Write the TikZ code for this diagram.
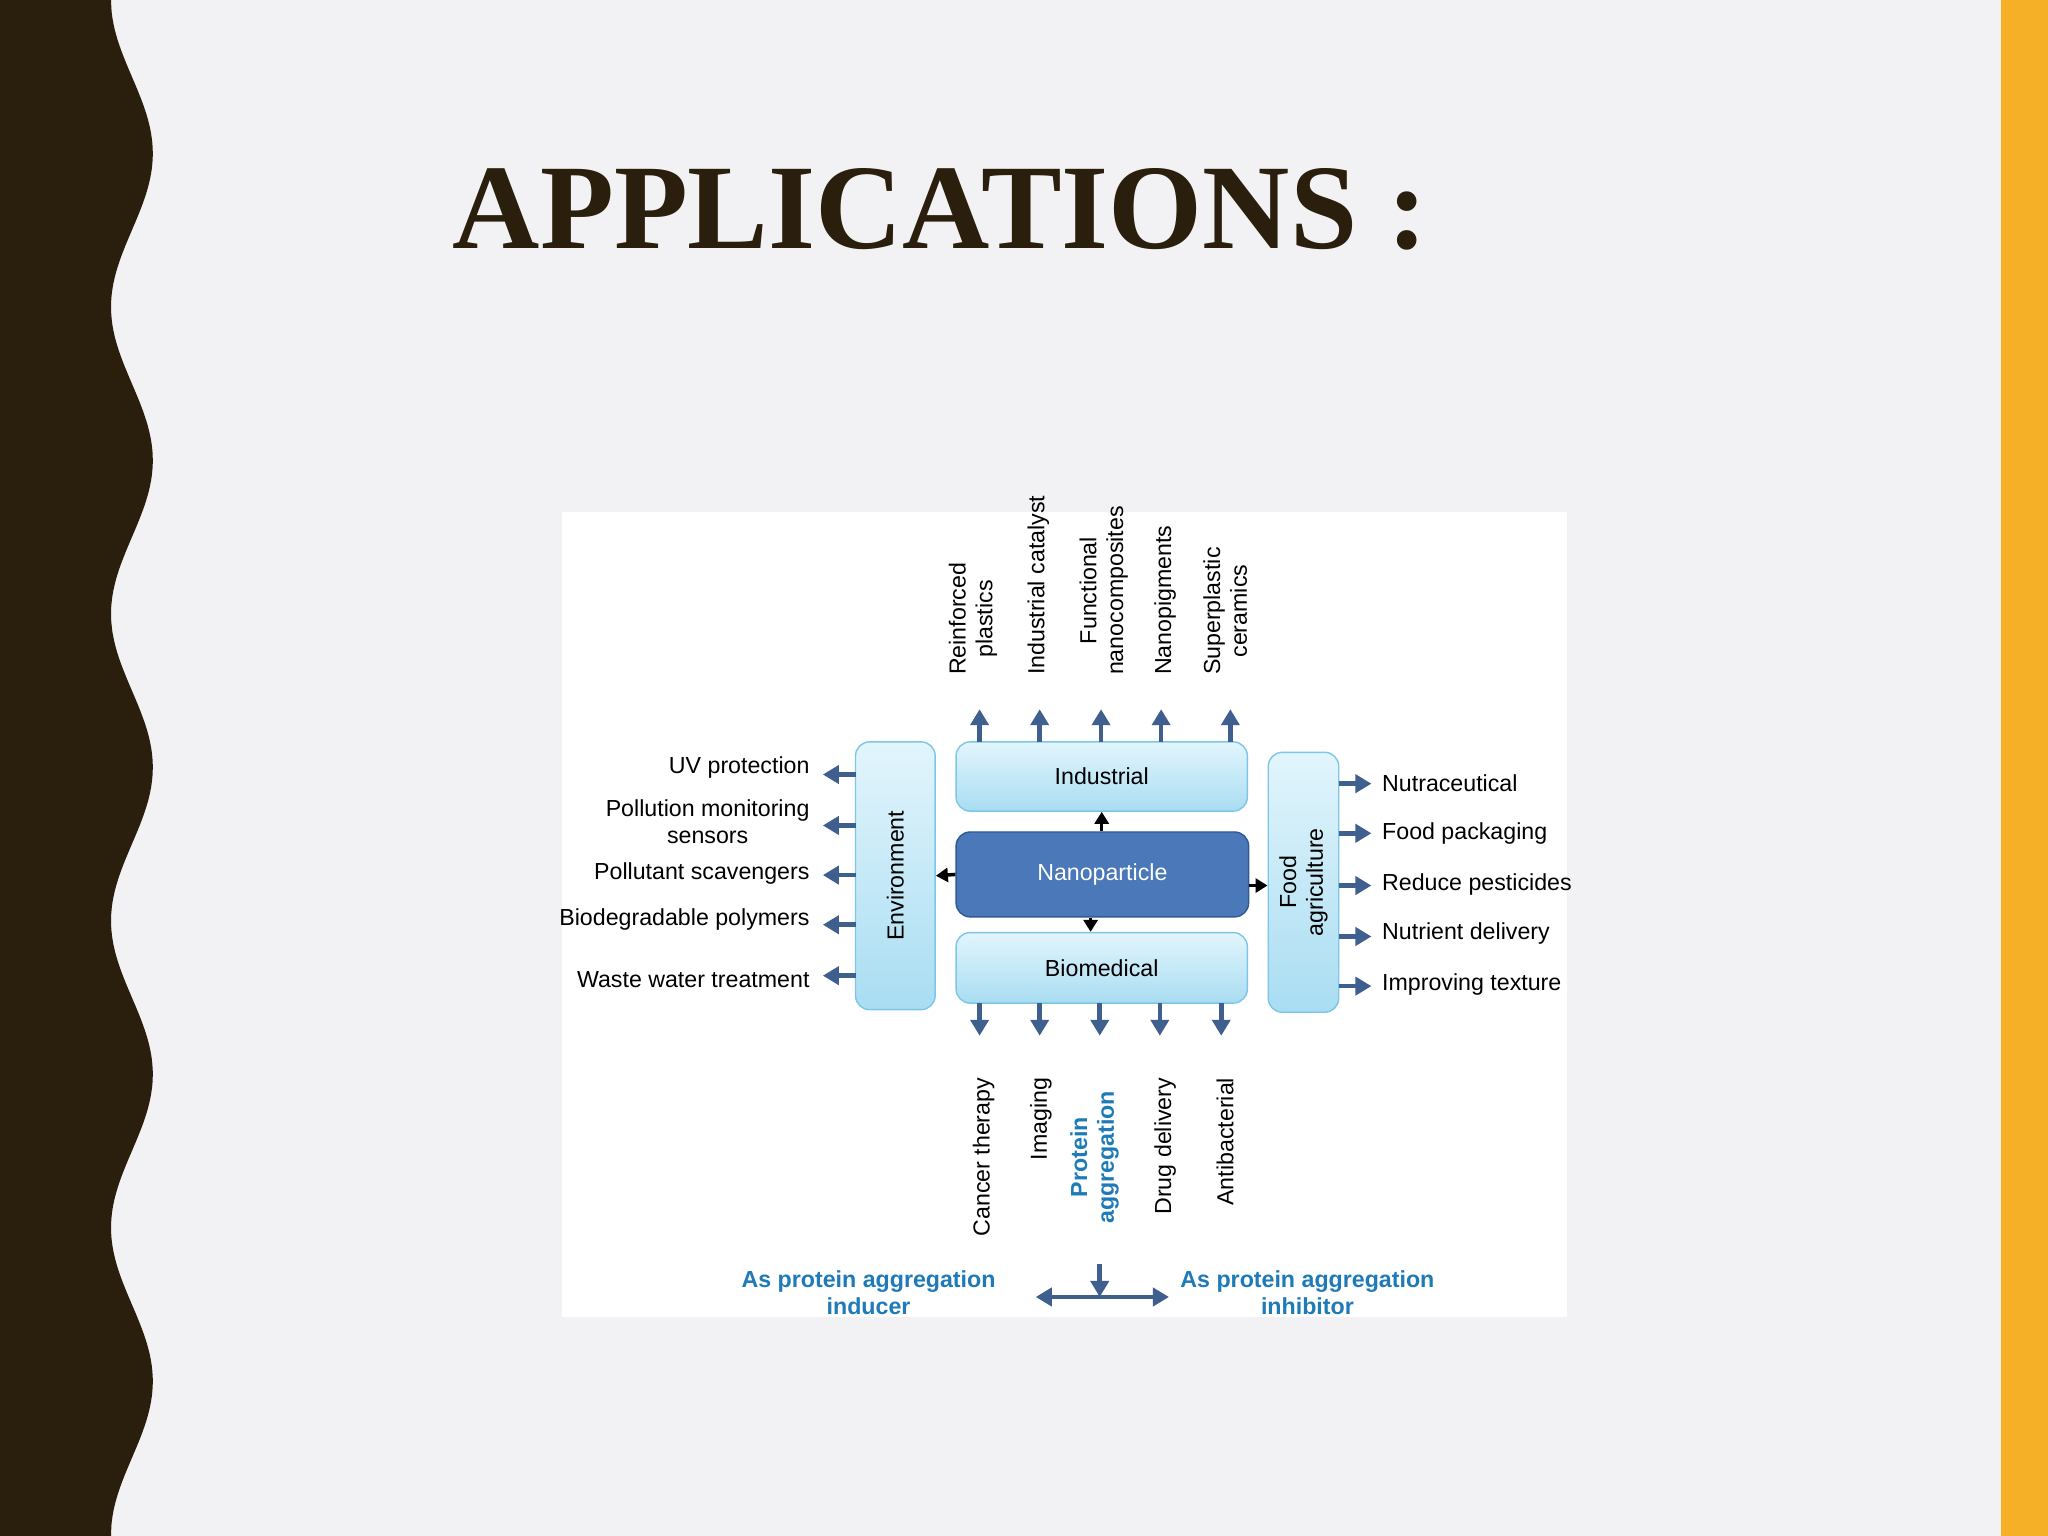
\documentclass[tikz,border=0pt]{standalone}
\usepackage{fontspec}
\setmainfont{Liberation Sans}
\newfontfamily\titlefont{Liberation Serif}
\usetikzlibrary{arrows.meta}
\definecolor{slide}{HTML}{F2F2F4}
\definecolor{wave}{HTML}{2A1E0C}
\definecolor{bar}{HTML}{F5B027}
\definecolor{boxtop}{HTML}{E2F5FC}
\definecolor{boxbot}{HTML}{A9DDF2}
\definecolor{boxline}{HTML}{7CC6E6}
\definecolor{core}{HTML}{4A78B8}
\definecolor{coreline}{HTML}{2F5A96}
\definecolor{link}{HTML}{3F5F8F}
\definecolor{bluetext}{HTML}{1F7AB8}
\newcommand\pxu{0.01306cm}
\tikzset{
  sector/.style={draw=boxline, rounded corners=4pt, top color=boxtop, bottom color=boxbot, font=\fontsize{6.6}{7.6}\selectfont, inner sep=0pt},
  item/.style={font=\fontsize{6.6}{7.6}\selectfont, align=center, inner sep=1pt},
  usearrow/.style={-{Triangle[length=1.6mm,width=1.8mm]}, line width=1.3pt, link},
  core arrow/.style={-{Triangle[length=1.2mm,width=1.4mm]}, line width=1pt, black}
}
\begin{document}
\begin{tikzpicture}[x=0.01306cm, y=-0.01306cm]
    % Slide background and side decorations
    \fill[slide] (0,0) rectangle (1568,1176);
    \fill[wave] (0,0) -- plot[domain=0:1176, samples=120, smooth] ({101-16*cos(\x/235*360)}, \x) -- (0,1176) -- cycle;
    \fill[bar] (1532,0) rectangle (1568,1176);
    \useasboundingbox (0,0) rectangle (1568,1176);

    % Title
    \node[wave, font=\titlefont\bfseries\fontsize{34.4}{38}\selectfont] (title) at (720,160) {APPLICATIONS :};

    % White panel of the figure
    \fill[white] (430,392) rectangle (1200,1008);

    % Sectors around the nanoparticle
    \node[sector, minimum width={223*\pxu}, minimum height={53*\pxu}] (ind) at (843.5,594.5) {Industrial};
    \node[draw=coreline, fill=core, rounded corners=4pt, text=white, minimum width={224*\pxu}, minimum height={65*\pxu}, font=\fontsize{6.6}{7.6}\selectfont] (nano) at (844,669.5) {Nanoparticle};
    \node[sector, minimum width={223*\pxu}, minimum height={54*\pxu}] (bio) at (843.5,741) {Biomedical};
    \node[sector, minimum width={61*\pxu}, minimum height={205*\pxu}] (env) at (685.5,670.5) {};
    \node[rotate=90, font=\fontsize{6.6}{7.6}\selectfont] at (env) {Environment};
    \node[sector, minimum width={54*\pxu}, minimum height={199*\pxu}] (food) at (998,675.5) {};
    \node[rotate=90, align=center, font=\fontsize{6.6}{7.6}\selectfont] at (food) {Food\\agriculture};

    % Links from the nanoparticle
    \draw[core arrow] (nano.north -| ind) -- (ind.south);
    \draw[core arrow] (nano.south -| 835,0) -- (bio.north -| 835,0);
    \draw[core arrow] (nano.west) -- (env.east);
    \draw[core arrow] (nano.east |- 0,678) -- (food.west |- 0,678);

    % Industrial uses
    \foreach \x/\txt in {745/{Reinforced\\plastics}, 795/{Industrial catalyst}, 845/{Functional\\nanocomposites}, 892/{Nanopigments}, 938/{Superplastic\\ceramics}} {
        \node[item, rotate=90, anchor=west] at (\x,520) {\txt};
    }
    \foreach \x in {750,796,843,889,942} {
        \draw[usearrow] (\x,568) -- (\x,543);
    }

    % Biomedical uses
    \foreach \x/\txt in {753/{Cancer therapy}, 797/{Imaging}, 892/{Drug delivery}, 938/{Antibacterial}} {
        \node[item, rotate=90, anchor=east] at (\x,822) {\txt};
    }
    \node[item, rotate=90, anchor=east, text=bluetext, font=\bfseries\fontsize{6.6}{7.6}\selectfont] (prot) at (838,832) {Protein\\aggregation};
    \foreach \x in {750,796,842,888,935} {
        \draw[usearrow] (\x,768) -- (\x,793);
    }

    % Environment uses
    \foreach \y/\txt in {588/{UV protection}, 629/{Pollution monitoring\\sensors}, 669/{Pollutant scavengers}, 704/{Biodegradable polymers}, 750/{Waste water treatment}} {
        \node[item, anchor=east] at (623,\y) {\txt};
    }
    \foreach \y in {593,632,670,708,747} {
        \draw[usearrow] (655,\y) -- (630,\y);
    }

    % Food and agriculture uses
    \foreach \y/\txt in {600/{Nutraceutical}, 638/{Food packaging}, 677/{Reduce pesticides}, 715/{Nutrient delivery}, 754/{Improving texture}} {
        \node[item, anchor=west] at (1055,\y) {\txt};
    }
    \foreach \y in {600,638,678,717,755} {
        \draw[usearrow] (1025,\y) -- (1050,\y);
    }

    % Protein aggregation split
    \coordinate (split) at (842,993);
    \draw[usearrow] (842,968) -- (split);
    \draw[{Triangle[length=1.6mm,width=1.8mm]}-{Triangle[length=1.6mm,width=1.8mm]}, line width=1.3pt, link] (793,993) -- (895,993);
    \node[item, text=bluetext, font=\bfseries\fontsize{6.6}{7.6}\selectfont] (inducer) at (665,990) {As protein aggregation\\inducer};
    \node[item, text=bluetext, font=\bfseries\fontsize{6.6}{7.6}\selectfont] (inhibitor) at (1001,990) {As protein aggregation\\inhibitor};
\end{tikzpicture}
\end{document}
